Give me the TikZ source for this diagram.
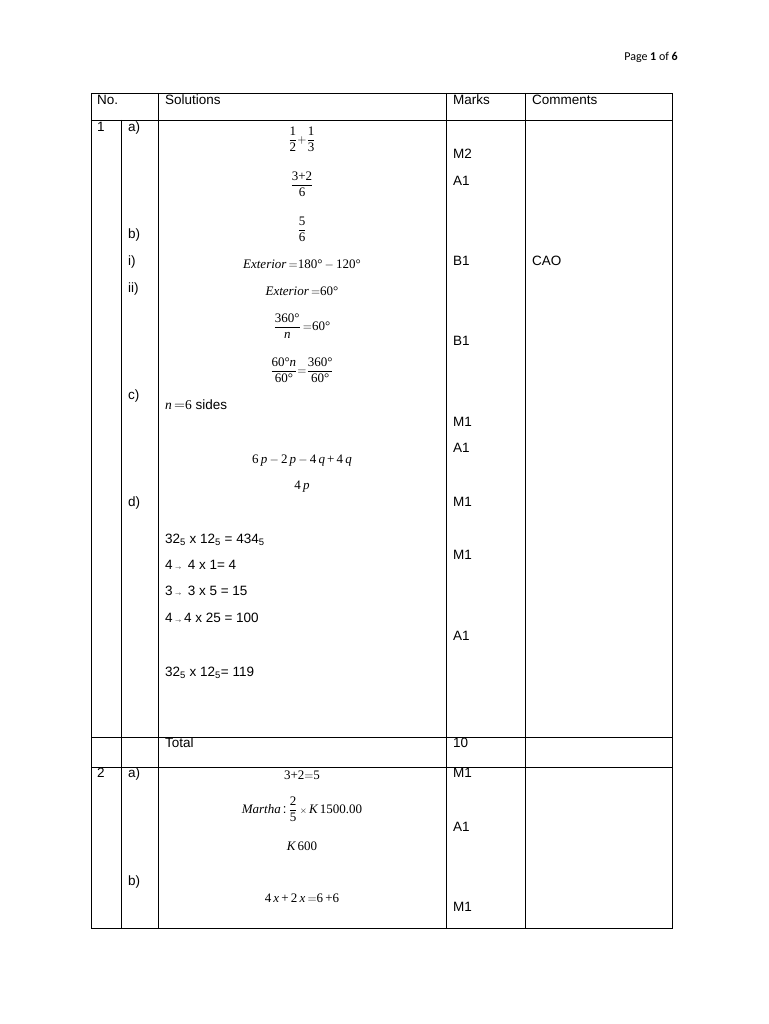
\documentclass[tikz,border=0pt]{standalone}
\usepackage{amsmath}
\usepackage{fontspec}
\setmainfont{Liberation Sans}
\newfontfamily\mf{Liberation Serif}
\newfontfamily\cf{Carlito}
\newcommand\T[1]{\hbox{\mf #1}}
\newcommand\I[1]{\hbox{\mf\itshape #1}}
\newcommand\fr[2]{\dfrac{\T{#1}}{\T{#2}}}
\begin{document}
\begin{tikzpicture}[x=1pt,y=-1pt,
  tx/.style={anchor=mid west,inner sep=0pt,font=\fontsize{13.5}{16}\selectfont},
  mth/.style={anchor=center,inner sep=0pt,font=\fontsize{13}{15}\selectfont},
  ln/.style={line width=0.8pt}]
\useasboundingbox (0,0) rectangle (768,1024);
\node[anchor=base east,inner sep=0pt,font=\cf\fontsize{12}{14}\selectfont] (pg) at (678,61) {Page \textbf{1} of \textbf{6}};
% grid
\draw[ln] (91,93) rectangle (672,928);
\foreach \y in {120,737,767} \draw[ln] (91,\y) -- (672,\y);
\draw[ln] (121,120) -- (121,928);
\foreach \x in {158,446,525} \draw[ln] (\x,93) -- (\x,928);
% header
\node[tx] (h1) at (97,102) {No.};
\node[tx] (h2) at (165,102) {Solutions};
\node[tx] (h3) at (453,102) {Marks};
\node[tx] (h4) at (532,102) {Comments};
% Q1 labels
\node[tx] (n1) at (97,129) {1};
\foreach \t/\yy [count=\i] in {a)/129,b)/236,i)/263,ii)/290,c)/397,d)/504} \node[tx] (l\i) at (128,\yy) {\t};
% marks
\foreach \t/\yy [count=\i] in {M2/156,A1/183,B1/263,B1/343,M1/424,A1/450,M1/504,M1/557,A1/638} \node[tx] (m\i) at (453,\yy) {\t};
\node[tx] (cao) at (532,263) {CAO};
% math
\node[mth] (s1) at (302,139) {$\fr{1}{2}{+}\fr{1}{3}$};
\node[mth] (s2) at (302,184) {$\fr{3+2}{6}$};
\node[mth] (s3) at (302,229) {$\fr{5}{6}$};
\node[mth] (s4) at (302,265) {\I{Exterior}\,$=$\T{180\textdegree}\,$-$\,\T{120\textdegree}};
\node[mth] (s5) at (302,291) {\I{Exterior}\,$=$\T{60\textdegree}};
\node[mth] (s6) at (302,326) {$\dfrac{\T{360\textdegree}}{\I{n}}$\,$=$\T{60\textdegree}};
\node[mth] (s7) at (302,370) {$\dfrac{\T{60\textdegree}\I{n}}{\T{60\textdegree}}{=}\dfrac{\T{360\textdegree}}{\T{60\textdegree}}$};
\node[tx] (s8) at (165,407) {\I{n}\,$=$\T{6} sides};
\node[mth] (s9) at (302,461) {\T{6\,\itshape p\upshape\,$-$\,2\,\itshape p\upshape\,$-$\,4\,\itshape q\upshape\,+\,4\,\itshape q}};
\node[mth] (s10) at (302,487) {\T{4\,\itshape p}};
\node[tx] (t1) at (165,541) {32\textsubscript{5} x 12\textsubscript{5} = 434\textsubscript{5}};
\node[tx] (t2) at (165,567) {4\,{\tiny$\rightarrow$}\, 4 x 1= 4};
\node[tx] (t3) at (165,593) {3\,{\tiny$\rightarrow$}\, 3 x 5 = 15};
\node[tx] (t4) at (165,620) {4\,{\tiny$\rightarrow$}\,4 x 25 = 100};
\node[tx] (t5) at (165,674) {32\textsubscript{5} x 12\textsubscript{5}= 119};
% total
\node[tx] (tot) at (165,745) {Total};
\node[tx] (ten) at (453,745) {10};
% Q2
\node[tx] (n2) at (97,775) {2};
\node[tx] (q2a) at (128,775) {a)};
\node[tx] (q2b) at (128,883) {b)};
\node[tx] (mm1) at (453,775) {M1};
\node[tx] (mm2) at (453,829) {A1};
\node[tx] (mm3) at (453,909) {M1};
\node[mth] (u1) at (302,775) {\T{3+2}$=$\T{5}};
\node[mth] (u2) at (302,809) {\I{Martha}\,:\,$\fr{2}{5}$\,{\small$\times$}\,\I{K}\,\T{1500.00}};
\node[mth] (u3) at (302,846) {\I{K}\,\T{600}};
\node[mth] (u4) at (302,898) {\T{4\,\itshape x\upshape\,+\,2\,\itshape x}\,$=$\T{6\,+6}};
\end{tikzpicture}
\end{document}
